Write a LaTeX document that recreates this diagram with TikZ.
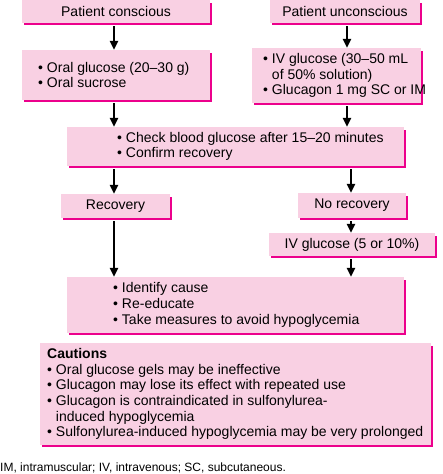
\documentclass[tikz,border=0pt]{standalone}
\usepackage{fontspec}
\setmainfont{Liberation Sans}
\usetikzlibrary{arrows.meta}
\definecolor{boxpink}{RGB}{249,208,227}
\definecolor{shadowpink}{RGB}{236,0,140}
\tikzset{
  pinkbox/.style={fill=boxpink, draw=none, inner sep=0pt, rectangle},
  shadowline/.style={draw=shadowpink, line width=1.7bp},
  txt/.style={inner sep=0pt, font=\fontsize{14bp}{15.7bp}\selectfont, align=left},
  arr/.style={line width=2.3bp, -{Triangle[length=9bp,width=8bp]}},
}
\newcommand\pinkrect[5]{%
  \node[pinkbox, minimum width={(#4-#2)*1bp}, minimum height={(#5-#3)*1bp}] (#1) at ({(#2+#4)/2},{(#3+#5)/2}) {};
  \draw[shadowline] ([xshift=2bp,yshift=-0.8bp]#1.south west) -| ([xshift=0.8bp,yshift=-3bp]#1.north east);
}
\begin{document}
\begin{tikzpicture}[x=1bp,y=-1bp]
\useasboundingbox (0,0) rectangle (443,474);
\fill[white] (0,0) rectangle (443,474);

\pinkrect{pc}{22}{0}{210}{23}
\pinkrect{pu}{270}{0}{420}{23}
\pinkrect{og}{22}{50}{210}{100}
\pinkrect{iv}{252}{48}{421}{103}
\pinkrect{chk}{67}{127}{404}{166}
\pinkrect{rec}{61}{194}{170}{218}
\pinkrect{norec}{298}{193}{406}{218}
\pinkrect{ivg}{269}{233}{435}{256}
\pinkrect{id}{67}{277}{404}{333}
\pinkrect{cau}{40}{343}{431}{445}

\node[txt] (pct) at (pc) {Patient conscious};
\node[txt] (put) at (pu) {Patient unconscious};
\node[txt, anchor=west] (ogt) at (38,75) {•\ Oral glucose (20–30 g)\\•\ Oral sucrose};
\node[txt, anchor=west] (ivt) at (263,75.5) {•\ IV glucose (30–50 mL\\\phantom{•\ }of 50\% solution)\\•\ Glucagon 1 mg SC or IM};
\node[txt, anchor=west] (chkt) at (117,146.5) {•\ Check blood glucose after 15–20 minutes\\•\ Confirm recovery};
\node[txt] (rect) at (rec) {Recovery};
\node[txt] (norect) at (norec) {No recovery};
\node[txt] (ivgt) at (ivg) {IV glucose (5 or 10\%)};
\node[txt, anchor=west] (idt) at (113,305) {•\ Identify cause\\•\ Re-educate\\•\ Take measures to avoid hypoglycemia};
\node[txt, anchor=west] (caut) at (47,394) {\textbf{Cautions}\\•\ Oral glucose gels may be ineffective\\•\ Glucagon may lose its effect with repeated use\\•\ Glucagon is contraindicated in sulfonylurea-\\\phantom{•\ }induced hypoglycemia\\•\ Sulfonylurea-induced hypoglycemia may be very prolonged};

\node[inner sep=0pt, anchor=base west, font=\fontsize{12bp}{14bp}\selectfont] (fn) at (0,471) {IM, intramuscular; IV, intravenous; SC, subcutaneous.};

\draw[arr] ([yshift=-3bp]pc.south -| 114,0) -- (og.north -| 114,0);
\draw[arr] ([yshift=-3bp]pu.south -| 347,0) -- (iv.north -| 347,0);
\draw[arr] ([yshift=-3bp]og.south -| 114,0) -- (chk.north -| 114,0);
\draw[arr] ([yshift=-3bp]iv.south -| 347,0) -- (chk.north -| 347,0);
\draw[arr] ([yshift=-3bp]chk.south -| 114,0) -- (rec.north -| 114,0);
\draw[arr] ([yshift=-3bp]chk.south -| 351,0) -- (norec.north -| 351,0);
\draw[arr] ([yshift=-3bp]rec.south -| 114,0) -- (id.north -| 114,0);
\draw[arr] ([yshift=-3bp]norec.south -| 351,0) -- (ivg.north -| 351,0);
\draw[arr] ([yshift=-3bp]ivg.south -| 351,0) -- (id.north -| 351,0);
\end{tikzpicture}
\end{document}
